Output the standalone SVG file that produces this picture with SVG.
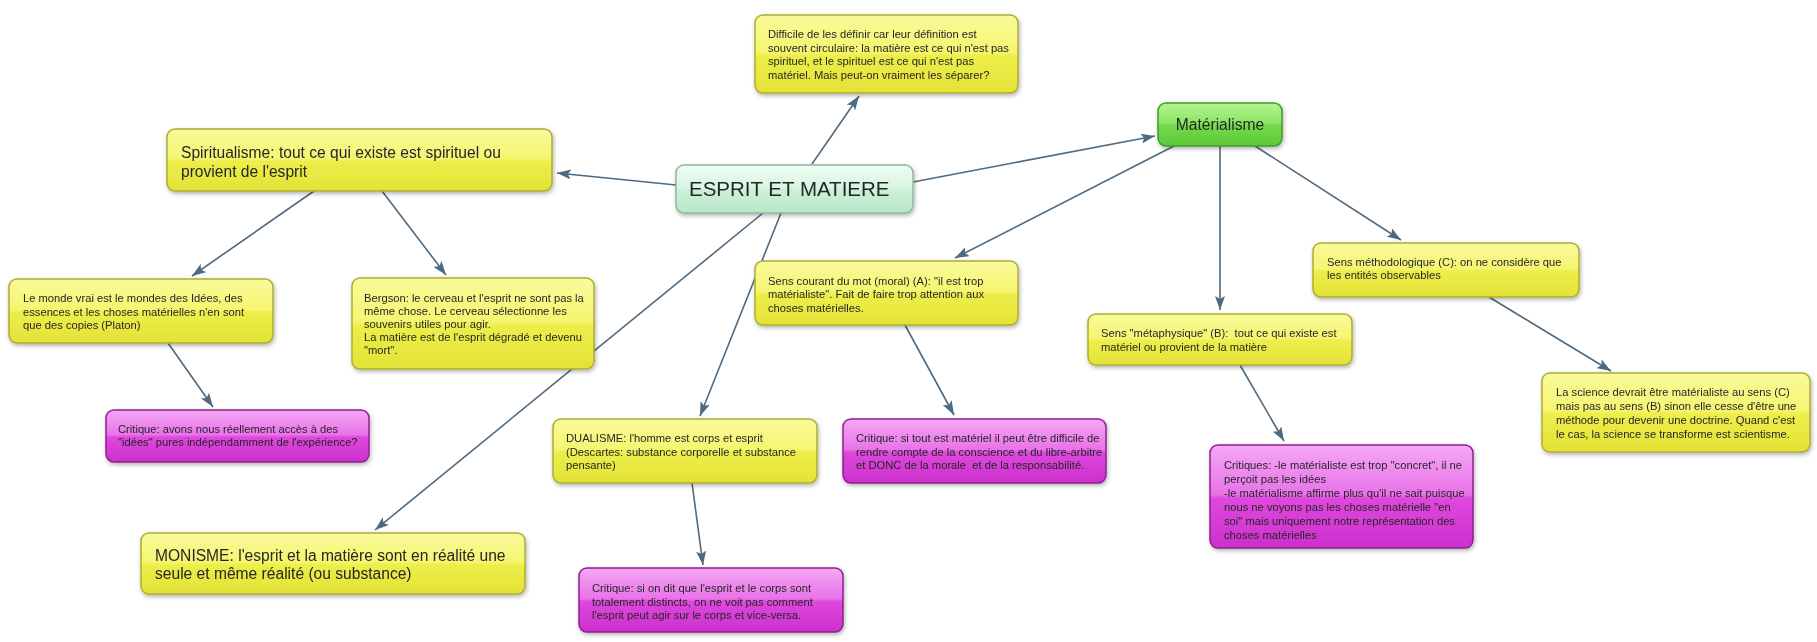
<svg xmlns="http://www.w3.org/2000/svg" width="1817" height="642" viewBox="0 0 1817 642">
<style>
.t{font-family:"Liberation Sans",Arial,sans-serif;fill:#262626;white-space:pre}
.s{font-size:11.2px}
.m{font-size:15.6px}
.y{fill:url(#gy);stroke:#adad30;stroke-width:1.5}
.p{fill:url(#gp);stroke:#8f1f8f;stroke-width:1.5}
.g{fill:url(#gg);stroke:#3f9a2a;stroke-width:1.5}
.c{fill:url(#gc);stroke:#8fb89c;stroke-width:1.5}
.n{filter:url(#sh)}
.e{stroke:#4e6a80;stroke-width:1.6;fill:none;marker-end:url(#ar)}
</style>
<defs>
<linearGradient id="gy" x1="0" y1="0" x2="0" y2="1">
<stop offset="0" stop-color="#fafa9c"/><stop offset="0.48" stop-color="#f5f570"/><stop offset="0.52" stop-color="#eeee4c"/><stop offset="1" stop-color="#e2e236"/>
</linearGradient>
<linearGradient id="gp" x1="0" y1="0" x2="0" y2="1">
<stop offset="0" stop-color="#f5a8f5"/><stop offset="0.48" stop-color="#e872e8"/><stop offset="0.52" stop-color="#de48de"/><stop offset="1" stop-color="#cc30cc"/>
</linearGradient>
<linearGradient id="gg" x1="0" y1="0" x2="0" y2="1">
<stop offset="0" stop-color="#b4f590"/><stop offset="0.48" stop-color="#8ae464"/><stop offset="0.52" stop-color="#74da4a"/><stop offset="1" stop-color="#5cc838"/>
</linearGradient>
<linearGradient id="gc" x1="0" y1="0" x2="0" y2="1">
<stop offset="0" stop-color="#eefcf3"/><stop offset="0.48" stop-color="#d8f5e2"/><stop offset="0.52" stop-color="#cdf0d8"/><stop offset="1" stop-color="#b8e8c8"/>
</linearGradient>
<filter id="sh" x="-10%" y="-20%" width="120%" height="150%">
<feDropShadow dx="1" dy="2" stdDeviation="2" flood-color="#000" flood-opacity="0.3"/>
</filter>
<marker id="ar" viewBox="0 0 14 10" refX="14" refY="5" markerWidth="14" markerHeight="10" markerUnits="userSpaceOnUse" orient="auto">
<path d="M0,0 L14,5 L0,10 L3,5 Z" fill="#4e6a80"/>
</marker>
</defs>
<rect width="1817" height="642" fill="#ffffff"/>
<g id="connectors">
<line class="e" x1="812" y1="164" x2="859" y2="96"/>
<line class="e" x1="676" y1="185" x2="557" y2="173"/>
<line class="e" x1="913" y1="182" x2="1155" y2="136"/>
<line class="e" x1="763" y1="213" x2="375" y2="530"/>
<line class="e" x1="781" y1="213" x2="700" y2="416"/>
<line class="e" x1="314" y1="191" x2="192" y2="276"/>
<line class="e" x1="382" y1="191" x2="446" y2="275"/>
<line class="e" x1="168" y1="343" x2="213" y2="407"/>
<line class="e" x1="692" y1="483" x2="703" y2="565"/>
<line class="e" x1="1174" y1="146" x2="955" y2="258"/>
<line class="e" x1="905" y1="325" x2="954" y2="415"/>
<line class="e" x1="1220" y1="146" x2="1220" y2="310"/>
<line class="e" x1="1255" y1="146" x2="1401" y2="240"/>
<line class="e" x1="1240" y1="365" x2="1284" y2="441"/>
<line class="e" x1="1489" y1="297" x2="1611" y2="371"/>
</g>
<g id="n-difficile" class="n">
<rect class="y" x="755" y="15" width="263" height="78" rx="8"/>
<text class="t s"><tspan x="768" y="38">Difficile de les définir car leur définition est</tspan><tspan x="768" y="51.7">souvent circulaire: la matière est ce qui n'est pas</tspan><tspan x="768" y="65.4">spirituel, et le spirituel est ce qui n'est pas</tspan><tspan x="768" y="79">matériel. Mais peut-on vraiment les séparer?</tspan></text>
</g>
<g id="n-esprit" class="n">
<rect class="c" x="676" y="165" width="237" height="48" rx="8"/>
<text class="t" x="689" y="196" style="font-size:20.5px">ESPRIT ET MATIERE</text>
</g>
<g id="n-spiritualisme" class="n">
<rect class="y" x="167" y="129" width="385" height="62" rx="8"/>
<text class="t m"><tspan x="181" y="157.5">Spiritualisme: tout ce qui existe est spirituel ou</tspan><tspan x="181" y="176.5">provient de l'esprit</tspan></text>
</g>
<g id="n-platon" class="n">
<rect class="y" x="9" y="279" width="264" height="64" rx="8"/>
<text class="t s"><tspan x="23" y="302">Le monde vrai est le mondes des Idées, des</tspan><tspan x="23" y="315.5">essences et les choses matérielles n'en sont</tspan><tspan x="23" y="329">que des copies (Platon)</tspan></text>
</g>
<g id="n-bergson" class="n">
<rect class="y" x="352" y="278" width="242" height="91" rx="8"/>
<text class="t s"><tspan x="364" y="302">Bergson: le cerveau et l'esprit ne sont pas la</tspan><tspan x="364" y="315">même chose. Le cerveau sélectionne les</tspan><tspan x="364" y="328">souvenirs utiles pour agir.</tspan><tspan x="364" y="341">La matière est de l'esprit dégradé et devenu</tspan><tspan x="364" y="354">"mort".</tspan></text>
</g>
<g id="n-critique-platon" class="n">
<rect class="p" x="106" y="410" width="263" height="52" rx="8"/>
<text class="t s"><tspan x="118" y="433">Critique: avons nous réellement accès à des</tspan><tspan x="118" y="446">"idées" pures indépendamment de l'expérience?</tspan></text>
</g>
<g id="n-monisme" class="n">
<rect class="y" x="141" y="533" width="384" height="61" rx="8"/>
<text class="t m"><tspan x="155" y="560.5">MONISME: l'esprit et la matière sont en réalité une</tspan><tspan x="155" y="579">seule et même réalité (ou substance)</tspan></text>
</g>
<g id="n-dualisme" class="n">
<rect class="y" x="553" y="419" width="264" height="64" rx="8"/>
<text class="t s"><tspan x="566" y="442">DUALISME: l'homme est corps et esprit</tspan><tspan x="566" y="455.5">(Descartes: substance corporelle et substance</tspan><tspan x="566" y="469">pensante)</tspan></text>
</g>
<g id="n-critique-dualisme" class="n">
<rect class="p" x="579" y="568" width="264" height="64" rx="8"/>
<text class="t s"><tspan x="592" y="592">Critique: si on dit que l'esprit et le corps sont</tspan><tspan x="592" y="605.5">totalement distincts, on ne voit pas comment</tspan><tspan x="592" y="619">l'esprit peut agir sur le corps et vice-versa.</tspan></text>
</g>
<g id="n-sens-courant" class="n">
<rect class="y" x="755" y="261" width="263" height="64" rx="8"/>
<text class="t s"><tspan x="768" y="284.5">Sens courant du mot (moral) (A): "il est trop</tspan><tspan x="768" y="298">matérialiste". Fait de faire trop attention aux</tspan><tspan x="768" y="311.5">choses matérielles.</tspan></text>
</g>
<g id="n-critique-materiel" class="n">
<rect class="p" x="843" y="419" width="263" height="64" rx="8"/>
<text class="t s"><tspan x="856" y="442">Critique: si tout est matériel il peut être difficile de</tspan><tspan x="856" y="455.5">rendre compte de la conscience et du libre-arbitre</tspan><tspan x="856" y="469">et DONC de la morale  et de la responsabilité.</tspan></text>
</g>
<g id="n-materialisme" class="n">
<rect class="g" x="1158" y="103" width="124" height="43" rx="8"/>
<text class="t" x="1220" y="130" text-anchor="middle" style="font-size:15.6px">Matérialisme</text>
</g>
<g id="n-metaphysique" class="n">
<rect class="y" x="1088" y="314" width="264" height="51" rx="8"/>
<text class="t s"><tspan x="1101" y="337">Sens "métaphysique" (B):  tout ce qui existe est</tspan><tspan x="1101" y="350.5">matériel ou provient de la matière</tspan></text>
</g>
<g id="n-methodologique" class="n">
<rect class="y" x="1313" y="243" width="266" height="54" rx="8"/>
<text class="t s"><tspan x="1327" y="265.5">Sens méthodologique (C): on ne considère que</tspan><tspan x="1327" y="279">les entités observables</tspan></text>
</g>
<g id="n-science" class="n">
<rect class="y" x="1542" y="373" width="268" height="79" rx="8"/>
<text class="t s"><tspan x="1556" y="396">La science devrait être matérialiste au sens (C)</tspan><tspan x="1556" y="410">mais pas au sens (B) sinon elle cesse d'être une</tspan><tspan x="1556" y="424">méthode pour devenir une doctrine. Quand c'est</tspan><tspan x="1556" y="438">le cas, la science se transforme est scientisme.</tspan></text>
</g>
<g id="n-critiques-materialisme" class="n">
<rect class="p" x="1210" y="445" width="263" height="103" rx="8"/>
<text class="t s"><tspan x="1224" y="469">Critiques: -le matérialiste est trop "concret", il ne</tspan><tspan x="1224" y="483">perçoit pas les idées</tspan><tspan x="1224" y="497">-le matérialisme affirme plus qu'il ne sait puisque</tspan><tspan x="1224" y="511">nous ne voyons pas les choses matérielle "en</tspan><tspan x="1224" y="525">soi" mais uniquement notre représentation des</tspan><tspan x="1224" y="539">choses matérielles</tspan></text>
</g>
</svg>
